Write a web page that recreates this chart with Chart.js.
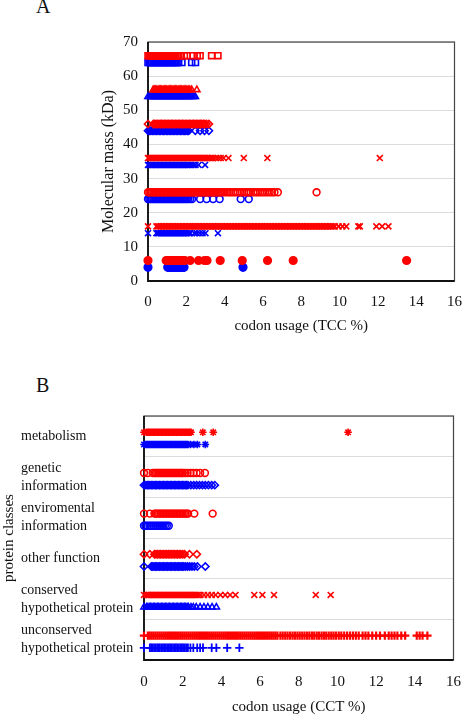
<!DOCTYPE html>
<html>
<head>
<meta charset="utf-8">
<script src="https://cdn.jsdelivr.net/npm/chart.js@4/dist/chart.umd.min.js"></script>
<style>
  html, body { margin:0; padding:0; background:#fff; overflow:hidden; width:474px; height:714px; }
  .wrap { position:absolute; left:0; width:474px; }
  .letter { position:absolute; font-family:'Liberation Serif', serif; font-size:20px; line-height:20px; color:#111; }
</style>
</head>
<body>
<div class="letter" style="left:36px; top:-4px;">A</div>
<div class="letter" style="left:36px; top:375px;">B</div>
<div class="wrap" style="top:0; height:345px;"><canvas id="chartA" width="474" height="345"></canvas></div>
<div class="wrap" style="top:345px; height:374px;"><canvas id="chartB" width="474" height="374"></canvas></div>
<script>
// ---------------- Panel A data: codon usage (TCC %) by molecular-mass row ----------------
const xTicksA = [0, 2, 4, 6, 8, 10, 12, 14, 16];
const yTicksA = [0, 10, 20, 30, 40, 50, 60, 70];
const massRed  = [66, 56, 46, 36, 26, 16, 6];
const massBlue = [64, 54, 44, 34, 24, 14, 4];

const tccRed66 = [0,0.06,0.12,0.19,0.25,0.31,0.38,0.44,0.5,0.57,0.63,0.7,0.76,0.82,0.89,0.95,1.02,1.08,1.14,1.21,1.27,1.33,1.4,1.46,1.53,1.6,1.7,1.9,2.05,2.35,2.57,2.72,3.32,3.65];
const tccBlue64 = [0,0.07,0.13,0.2,0.26,0.33,0.39,0.46,0.52,0.59,0.66,0.72,0.79,0.85,0.92,0.98,1.05,1.12,1.18,1.25,1.31,1.38,1.45,1.52,1.6,1.77,2.28,2.48];
const tccRed56 = [0.27,0.33,0.4,0.46,0.53,0.59,0.66,0.72,0.79,0.85,0.92,0.98,1.05,1.11,1.18,1.24,1.31,1.37,1.44,1.5,1.57,1.63,1.7,1.76,1.83,1.89,1.96,2.03,2.1,2.18,2.28,2.55];
const tccBlue54 = [0,0.09,0.16,0.23,0.3,0.37,0.43,0.5,0.57,0.64,0.7,0.77,0.84,0.91,0.97,1.04,1.11,1.18,1.24,1.31,1.38,1.45,1.51,1.58,1.65,1.72,1.78,1.85,1.92,1.99,2.06,2.13,2.22,2.31,2.4,2.47];
const tccRed46 = [0,0.28,0.35,0.42,0.49,0.57,0.64,0.71,0.78,0.86,0.93,1.0,1.07,1.15,1.22,1.29,1.36,1.44,1.51,1.58,1.65,1.73,1.8,1.87,1.94,2.02,2.09,2.16,2.23,2.31,2.38,2.45,2.52,2.6,2.67,2.74,2.81,2.89,2.96,3.05,3.18];
const tccBlue44 = [0,0.08,0.15,0.22,0.3,0.37,0.44,0.52,0.59,0.66,0.74,0.81,0.88,0.96,1.03,1.1,1.18,1.25,1.32,1.4,1.47,1.54,1.62,1.69,1.76,1.84,1.91,1.98,2.06,2.13,2.47,2.72,2.95,3.18];
const tccRed36 = [0,0.07,0.14,0.21,0.28,0.35,0.42,0.49,0.56,0.63,0.7,0.77,0.84,0.91,0.98,1.05,1.12,1.19,1.26,1.33,1.4,1.47,1.54,1.61,1.68,1.75,1.82,1.89,1.96,2.03,2.1,2.17,2.24,2.31,2.38,2.45,2.52,2.59,2.66,2.73,2.8,2.87,2.94,3.01,3.08,3.16,3.24,3.32,3.4,3.53,3.66,3.8,3.95,4.2,5.0,6.23,12.1];
const tccBlue34 = [0,0.07,0.14,0.21,0.28,0.35,0.42,0.49,0.56,0.63,0.7,0.77,0.84,0.91,0.98,1.05,1.12,1.19,1.26,1.33,1.4,1.47,1.54,1.61,1.68,1.75,1.82,1.89,1.96,2.03,2.1,2.18,2.27,2.37,2.48,2.64,2.98];
const tccRed26 = [0,0.07,0.14,0.21,0.28,0.35,0.42,0.49,0.56,0.63,0.7,0.77,0.84,0.91,0.98,1.05,1.12,1.19,1.26,1.33,1.4,1.47,1.54,1.61,1.68,1.75,1.82,1.89,1.96,2.03,2.1,2.17,2.24,2.31,2.38,2.45,2.52,2.59,2.66,2.73,2.8,2.87,2.94,3.01,3.08,3.15,3.22,3.29,3.36,3.43,3.5,3.58,3.66,3.74,3.82,3.9,4.0,4.12,4.24,4.33,4.45,4.56,4.68,4.8,4.9,5.02,5.14,5.25,5.36,5.5,5.62,5.73,5.85,5.97,6.1,6.22,6.35,6.47,6.6,6.78,8.8];
const tccBlue24 = [0,0.07,0.14,0.21,0.28,0.35,0.42,0.49,0.56,0.63,0.7,0.77,0.84,0.91,0.98,1.05,1.12,1.19,1.26,1.33,1.4,1.47,1.54,1.61,1.68,1.75,1.82,1.89,1.96,2.03,2.1,2.2,2.3,2.72,3.06,3.4,3.74,4.84,5.26];
const tccRed16 = [0,0.44,0.52,0.6,0.68,0.76,0.84,0.92,1.0,1.08,1.16,1.24,1.32,1.4,1.48,1.56,1.64,1.72,1.8,1.88,1.96,2.04,2.12,2.2,2.28,2.36,2.44,2.52,2.6,2.68,2.76,2.84,2.92,3.0,3.08,3.16,3.24,3.32,3.4,3.48,3.56,3.64,3.72,3.8,3.88,3.96,4.04,4.12,4.2,4.28,4.36,4.44,4.52,4.6,4.68,4.76,4.84,4.92,5.0,5.08,5.16,5.24,5.32,5.4,5.48,5.56,5.64,5.72,5.8,5.88,5.96,6.04,6.12,6.2,6.28,6.36,6.44,6.52,6.6,6.68,6.76,6.84,6.92,7.0,7.08,7.16,7.24,7.32,7.4,7.48,7.56,7.64,7.72,7.8,7.88,7.96,8.04,8.12,8.2,8.28,8.36,8.44,8.52,8.6,8.68,8.76,8.84,8.92,9.0,9.08,9.16,9.24,9.32,9.4,9.48,9.56,9.64,9.75,9.95,10.15,10.35,10.98,11.06,11.92,12.22,12.55];
const tccBlue14 = [0,0.44,0.51,0.58,0.65,0.72,0.79,0.86,0.93,1.0,1.07,1.14,1.21,1.28,1.35,1.42,1.49,1.56,1.63,1.7,1.77,1.84,1.91,1.98,2.06,2.14,2.22,2.42,2.55,2.7,2.85,3.0,3.65];
const tccRed6 = [0,0.95,1.03,1.11,1.19,1.27,1.35,1.43,1.51,1.59,1.67,1.75,1.83,1.92,2.2,2.64,2.95,3.08,3.77,4.92,6.24,7.58,13.5];
const tccBlue4 = [0,1.03,1.1,1.18,1.26,1.34,1.42,1.5,1.58,1.66,1.74,1.82,1.88,4.96];

// ---------------- Panel B data: codon usage (CCT %) by protein class ----------------
const xTicksB = [0, 2, 4, 6, 8, 10, 12, 14, 16];
const proteinClasses = [
  ["metabolism"],
  ["genetic", "information"],
  ["enviromental", "information"],
  ["other function"],
  ["conserved", "hypothetical protein"],
  ["unconserved", "hypothetical protein"]
];
const cctMetRed = [0,0.13,0.2,0.27,0.34,0.41,0.48,0.55,0.62,0.69,0.76,0.83,0.9,0.97,1.04,1.11,1.18,1.25,1.32,1.39,1.46,1.53,1.6,1.67,1.74,1.81,1.88,1.95,2.02,2.09,2.16,2.23,2.3,2.37,2.43,3.04,3.58,10.55];
const cctMetBlue = [0,0.1,0.17,0.24,0.31,0.38,0.45,0.52,0.59,0.66,0.73,0.8,0.87,0.94,1.01,1.08,1.15,1.22,1.29,1.36,1.43,1.5,1.57,1.64,1.71,1.78,1.85,1.92,1.99,2.06,2.13,2.2,2.27,2.4,2.58,2.76,3.17];
const cctGenRed = [0,0.2,0.45,0.55,0.62,0.69,0.76,0.83,0.9,0.97,1.04,1.11,1.18,1.25,1.32,1.39,1.46,1.53,1.6,1.67,1.74,1.81,1.88,1.95,2.0,2.12,2.25,2.4,2.55,2.72,2.9,3.15];
const cctGenBlue = [0,0.1,0.17,0.24,0.31,0.38,0.45,0.52,0.59,0.66,0.73,0.8,0.87,0.94,1.01,1.08,1.15,1.22,1.29,1.36,1.43,1.5,1.57,1.64,1.71,1.78,1.85,1.92,1.99,2.06,2.13,2.2,2.27,2.42,2.57,2.72,2.87,3.02,3.17,3.33,3.5,3.66];
const cctEnvRed = [0,0.3,0.54,0.62,0.7,0.78,0.86,0.94,1.02,1.1,1.18,1.26,1.34,1.42,1.5,1.58,1.66,1.74,1.82,1.9,1.98,2.06,2.14,2.22,2.28,2.6,3.55];
const cctEnvBlue = [0,0.08,0.18,0.28,0.38,0.48,0.58,0.68,0.78,0.88,0.98,1.08,1.18,1.28];
const cctOthRed = [0,0.3,0.54,0.62,0.7,0.78,0.86,0.94,1.02,1.1,1.18,1.26,1.34,1.42,1.5,1.58,1.66,1.74,1.82,1.9,2.0,2.1,2.35,2.73];
const cctOthBlue = [0,0.38,0.45,0.52,0.59,0.66,0.73,0.8,0.87,0.94,1.01,1.08,1.15,1.22,1.29,1.36,1.43,1.5,1.57,1.64,1.71,1.78,1.85,1.92,1.99,2.06,2.15,2.25,2.36,2.48,2.6,2.76,3.17];
const cctConRed = [0,0.13,0.2,0.27,0.34,0.41,0.48,0.55,0.62,0.69,0.76,0.83,0.9,0.97,1.04,1.11,1.18,1.25,1.32,1.39,1.46,1.53,1.6,1.67,1.74,1.81,1.88,1.95,2.02,2.09,2.16,2.23,2.3,2.37,2.44,2.51,2.58,2.65,2.72,2.8,2.92,3.1,3.3,3.5,3.7,3.95,4.2,4.45,4.73,5.7,6.12,6.72,8.88,9.65];
const cctConBlue = [0,0.13,0.2,0.27,0.34,0.41,0.48,0.55,0.62,0.69,0.76,0.83,0.9,0.97,1.04,1.11,1.18,1.25,1.32,1.39,1.46,1.53,1.6,1.67,1.74,1.81,1.88,1.95,2.02,2.09,2.16,2.23,2.3,2.43,2.55,2.7,2.9,3.1,3.3,3.52,3.74];
const cctUncRed = [0,0.2,0.3,0.4,0.5,0.6,0.7,0.8,0.9,1.0,1.1,1.2,1.3,1.4,1.5,1.6,1.7,1.8,1.9,2.0,2.1,2.2,2.3,2.4,2.5,2.6,2.7,2.8,2.9,3.0,3.1,3.2,3.3,3.4,3.5,3.6,3.7,3.8,3.9,4.0,4.1,4.2,4.3,4.4,4.5,4.6,4.7,4.8,4.9,5.0,5.1,5.2,5.3,5.4,5.5,5.6,5.7,5.8,5.9,6.0,6.1,6.2,6.3,6.4,6.5,6.6,6.7,6.8,6.9,7.05,7.17,7.3,7.42,7.55,7.68,7.8,7.93,8.05,8.18,8.3,8.43,8.55,8.68,8.8,8.93,9.05,9.18,9.3,9.42,9.55,9.68,9.8,9.93,10.07,10.2,10.35,10.5,10.65,10.8,10.95,11.1,11.3,11.45,11.6,11.8,12.0,12.2,12.45,12.65,12.8,12.95,13.1,13.3,13.5,14.1,14.25,14.4,14.65];
const cctUncBlue = [0,0.3,0.37,0.44,0.52,0.6,0.68,0.75,0.82,0.9,0.98,1.05,1.12,1.2,1.28,1.35,1.42,1.5,1.58,1.65,1.72,1.8,1.88,1.95,2.02,2.1,2.18,2.27,2.4,2.55,2.75,2.9,3.05,3.5,3.74,4.3,4.93];

// ---------------- styling helpers ----------------
const RED = '#ff0000';
const BLUE = '#0000ff';
const FONT = "'Liberation Serif', 'Times New Roman', serif";
const TXT = '#111';

function pts(xs, y) { return xs.map(x => ({ x: x, y: y })); }
function ds(xs, y, color, style, r, filled, bw) {
  return {
    data: pts(xs, y),
    xAxisID: 'x',
    yAxisID: 'y',
    pointStyle: style,
    pointRadius: r,
    borderColor: color,
    backgroundColor: filled ? color : 'rgba(0,0,0,0)',
    pointBorderWidth: bw || 1.6,
    borderWidth: bw || 1.6,
    showLine: false,
    clip: false
  };
}

const framePlugin = {
  id: 'frame',
  beforeDatasetsDraw(chart) {
    const a = chart.chartArea, ctx = chart.ctx;
    ctx.save();
    ctx.strokeStyle = '#444';
    ctx.lineWidth = 1.2;
    ctx.strokeRect(a.left, a.top, a.right - a.left, a.bottom - a.top);
    ctx.strokeStyle = '#111';
    ctx.lineWidth = 1.8;
    ctx.beginPath();
    ctx.moveTo(a.left, a.top);
    ctx.lineTo(a.left, a.bottom);
    ctx.lineTo(a.right, a.bottom);
    ctx.stroke();
    ctx.restore();
  }
};

// ---------------- Chart A ----------------
const rowsA = [
  [tccRed66, massRed[0], RED, 'rect', 4.2, false],
  [tccBlue64, massBlue[0], BLUE, 'rect', 4.2, false],
  [tccRed56, massRed[1], RED, 'triangle', 3.6, false],
  [tccBlue54, massBlue[1], BLUE, 'triangle', 3.6, false],
  [tccRed46, massRed[2], RED, 'rectRot', 3.6, false],
  [tccBlue44, massBlue[2], BLUE, 'rectRot', 3.6, false],
  [tccRed36, massRed[3], RED, 'crossRot', 4.2, false],
  [tccBlue34, massBlue[3], BLUE, 'crossRot', 4.2, false],
  [tccRed26, massRed[4], RED, 'circle', 3.4, false],
  [tccBlue24, massBlue[4], BLUE, 'circle', 3.4, false],
  [tccRed16, massRed[5], RED, 'crossRot', 4.2, false],
  [tccBlue14, massBlue[5], BLUE, 'crossRot', 4.2, false],
  [tccRed6, massRed[6], RED, 'circle', 3.8, true],
  [tccBlue4, massBlue[6], BLUE, 'circle', 3.8, true]
];

new Chart(document.getElementById('chartA'), {
  type: 'scatter',
  data: { datasets: rowsA.map(r => ds(r[0], r[1], r[2], r[3], r[4], r[5])) },
  options: {
    responsive: false,
    animation: false,
    devicePixelRatio: 1,
    events: [],
    layout: { padding: { left: 99, right: 12, top: 42, bottom: 6 } },
    plugins: { legend: { display: false }, tooltip: { enabled: false } },
    scales: {
      x: {
        type: 'linear', min: 0, max: 16,
        afterBuildTicks: s => { s.ticks = xTicksA.map(v => ({ value: v })); },
        afterFit: s => { s.height = 58; },
        grid: { display: false, drawTicks: false },
        border: { display: false },
        ticks: { padding: 12, color: TXT, font: { family: FONT, size: 15 } },
        title: { display: true, text: 'codon usage (TCC %)', color: TXT, padding: { top: 0, bottom: 4 }, font: { family: FONT, size: 15 } }
      },
      y: {
        type: 'linear', min: 0, max: 70,
        afterBuildTicks: s => { s.ticks = yTicksA.map(v => ({ value: v })); },
        afterFit: s => { s.width = 49; },
        grid: { color: '#dcdcdc', lineWidth: 1, drawTicks: false },
        border: { display: false },
        ticks: { padding: 10, color: TXT, font: { family: FONT, size: 15 } },
        title: { display: true, text: 'Molecular mass (kDa)', color: TXT, padding: 0, font: { family: FONT, size: 16 } }
      }
    }
  },
  plugins: [framePlugin]
});

// ---------------- Chart B ----------------
const nClasses = proteinClasses.length;
const RED_OFF = 0.6, BLUE_OFF = 0.3;
function band(i) { return nClasses - 1 - i; } // class index (top to bottom) -> band base value
const rowsB = [
  [cctMetRed, 0, RED, 'star', 3.8, RED_OFF],
  [cctMetBlue, 0, BLUE, 'star', 3.8, BLUE_OFF],
  [cctGenRed, 1, RED, 'circle', 3.4, RED_OFF],
  [cctGenBlue, 1, BLUE, 'rectRot', 3.6, BLUE_OFF],
  [cctEnvRed, 2, RED, 'circle', 3.4, RED_OFF],
  [cctEnvBlue, 2, BLUE, 'circle', 3.4, BLUE_OFF],
  [cctOthRed, 3, RED, 'rectRot', 3.6, RED_OFF],
  [cctOthBlue, 3, BLUE, 'rectRot', 3.6, BLUE_OFF],
  [cctConRed, 4, RED, 'crossRot', 4.2, RED_OFF],
  [cctConBlue, 4, BLUE, 'triangle', 3.6, BLUE_OFF],
  [cctUncRed, 5, RED, 'cross', 4.2, RED_OFF, 2.2],
  [cctUncBlue, 5, BLUE, 'cross', 4.2, BLUE_OFF, 1.8]
];

new Chart(document.getElementById('chartB'), {
  type: 'scatter',
  data: { datasets: rowsB.map(r => ds(r[0], band(r[1]) + r[5], r[2], r[3], r[4], false, r[6])) },
  options: {
    responsive: false,
    animation: false,
    devicePixelRatio: 1,
    events: [],
    layout: { padding: { left: 0, right: 6, top: 71, bottom: 0 } },
    plugins: { legend: { display: false }, tooltip: { enabled: false } },
    scales: {
      x: {
        type: 'linear', min: 0, max: 16,
        afterBuildTicks: s => { s.ticks = xTicksB.map(v => ({ value: v })); },
        afterFit: s => { s.height = 59; },
        grid: { display: false, drawTicks: false },
        border: { display: false },
        ticks: { padding: 13, color: TXT, font: { family: FONT, size: 15 } },
        title: { display: true, text: 'codon usage (CCT %)', color: TXT, padding: { top: 0, bottom: 3 }, font: { family: FONT, size: 15 } }
      },
      y: {
        type: 'linear', position: 'left', weight: 0, min: 0, max: nClasses,
        afterBuildTicks: s => { s.ticks = [0, 1, 2, 3, 4, 5, 6].map(v => ({ value: v })); },
        afterFit: s => { s.width = 123; },
        grid: { color: '#dcdcdc', lineWidth: 1, drawTicks: false },
        border: { display: false },
        ticks: {
          autoSkip: false,
          crossAlign: 'far',
          padding: 0,
          labelOffset: -20.3,
          color: TXT,
          font: { family: FONT, size: 14, lineHeight: 1.29 },
          callback: v => (v < nClasses ? proteinClasses[nClasses - 1 - v] : '')
        }
      },
      yT: {
        axis: 'y', type: 'linear', position: 'left', weight: 10, min: 0, max: 1,
        afterFit: s => { s.width = 21; },
        grid: { display: false, drawTicks: false },
        border: { display: false },
        ticks: { display: false },
        title: { display: true, text: 'protein classes', color: TXT, padding: 0, font: { family: FONT, size: 15 } }
      }
    }
  },
  plugins: [framePlugin]
});
</script>
</body>
</html>
